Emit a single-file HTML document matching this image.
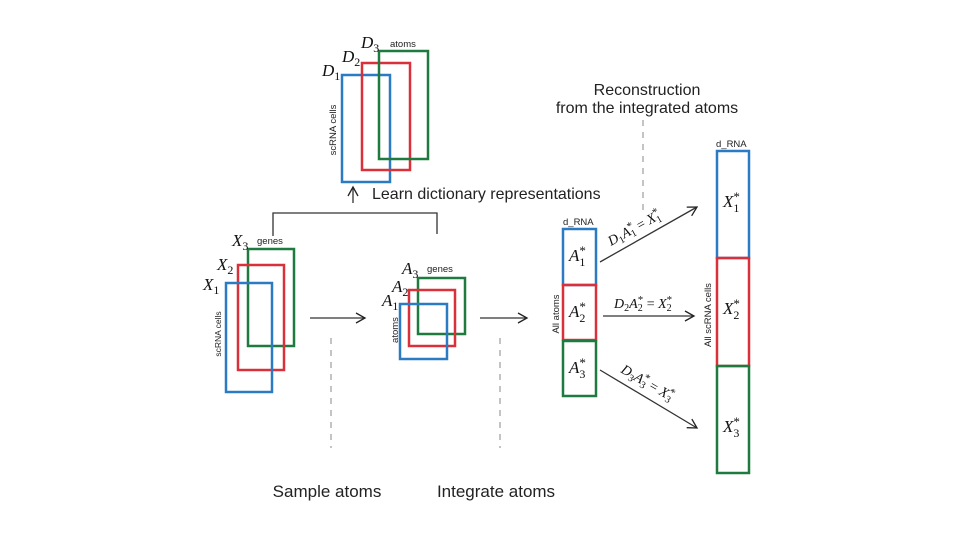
<!DOCTYPE html>
<html><head><meta charset="utf-8"><style>
body{margin:0;background:#fff}
svg{display:block}
.s{font-family:"Liberation Sans",sans-serif;fill:#222}
.m{font-family:"Liberation Serif",serif;font-style:italic;fill:#111}
.m tspan.n{font-style:normal}
</style></head><body>
<svg width="960" height="540" viewBox="0 0 960 540" xmlns="http://www.w3.org/2000/svg">
<defs><marker id="ar" markerWidth="12" markerHeight="12" refX="10" refY="6" orient="auto" markerUnits="userSpaceOnUse"><path d="M1,1 L10,6 L1,11" fill="none" stroke="#222" stroke-width="1.3"/></marker></defs>
<g fill="none" stroke-width="2.5">
<rect x="342" y="75" width="48" height="107" stroke="#2a7bc4"/>
<rect x="362" y="63" width="48" height="107" stroke="#d9303a"/>
<rect x="379" y="51" width="49" height="108" stroke="#1f7a3f"/>
<rect x="248" y="249" width="46" height="97" stroke="#1f7a3f"/>
<rect x="238" y="265" width="46" height="105" stroke="#d9303a"/>
<rect x="226" y="283" width="46" height="109" stroke="#2a7bc4"/>
<rect x="418" y="278" width="47" height="56" stroke="#1f7a3f"/>
<rect x="409" y="290" width="46" height="56" stroke="#d9303a"/>
<rect x="400" y="304" width="47" height="55" stroke="#2a7bc4"/>
<rect x="563" y="229" width="33" height="56" stroke="#2a7bc4"/>
<rect x="563" y="285" width="33" height="55" stroke="#d9303a"/>
<rect x="563" y="341" width="33" height="55" stroke="#1f7a3f"/>
<rect x="717" y="151" width="32" height="107" stroke="#2a7bc4"/>
<rect x="717" y="258" width="32" height="108" stroke="#d9303a"/>
<rect x="717" y="366" width="32" height="107" stroke="#1f7a3f"/>
</g>
<g stroke="#333" stroke-width="1.3" fill="none">
<path d="M273,236 V213 H437 V234"/>
<line x1="353" y1="203" x2="353" y2="187" marker-end="url(#ar)"/>
<line x1="310" y1="318" x2="365" y2="318" marker-end="url(#ar)"/>
<line x1="480" y1="318" x2="527" y2="318" marker-end="url(#ar)"/>
<line x1="600" y1="262" x2="697" y2="207" marker-end="url(#ar)"/>
<line x1="603" y1="316" x2="694" y2="316" marker-end="url(#ar)"/>
<line x1="600" y1="370" x2="697" y2="428" marker-end="url(#ar)"/>
</g>
<g stroke="#888" stroke-width="1" stroke-dasharray="6,6">
<line x1="331" y1="338" x2="331" y2="448"/>
<line x1="500" y1="338" x2="500" y2="448"/>
<line x1="643" y1="120" x2="643" y2="210"/>
</g>
<g class="m" font-size="17">
<text x="322" y="76">D<tspan class="n" font-size="12" dy="4">1</tspan></text>
<text x="342" y="62">D<tspan class="n" font-size="12" dy="4">2</tspan></text>
<text x="361" y="48">D<tspan class="n" font-size="12" dy="4">3</tspan></text>
<text x="203" y="290">X<tspan class="n" font-size="12" dy="4">1</tspan></text>
<text x="217" y="270">X<tspan class="n" font-size="12" dy="4">2</tspan></text>
<text x="232" y="246">X<tspan class="n" font-size="12" dy="4">3</tspan></text>
<text x="382" y="306">A<tspan class="n" font-size="12" dy="4">1</tspan></text>
<text x="392" y="292">A<tspan class="n" font-size="12" dy="4">2</tspan></text>
<text x="402" y="274">A<tspan class="n" font-size="12" dy="4">3</tspan></text>
<text x="569" y="261">A<tspan class="n" font-size="12" dy="5">1</tspan><tspan class="n" font-size="13" dy="-11" dx="-6">*</tspan></text>
<text x="569" y="317">A<tspan class="n" font-size="12" dy="5">2</tspan><tspan class="n" font-size="13" dy="-11" dx="-6">*</tspan></text>
<text x="569" y="373">A<tspan class="n" font-size="12" dy="5">3</tspan><tspan class="n" font-size="13" dy="-11" dx="-6">*</tspan></text>
<text x="723" y="207">X<tspan class="n" font-size="12" dy="5">1</tspan><tspan class="n" font-size="13" dy="-11" dx="-6">*</tspan></text>
<text x="723" y="314">X<tspan class="n" font-size="12" dy="5">2</tspan><tspan class="n" font-size="13" dy="-11" dx="-6">*</tspan></text>
<text x="723" y="432">X<tspan class="n" font-size="12" dy="5">3</tspan><tspan class="n" font-size="13" dy="-11" dx="-6">*</tspan></text>
</g>
<g class="m" font-size="14">
<text transform="translate(611,246) rotate(-29)">D<tspan class="n" font-size="10" dy="3">1</tspan><tspan dy="-3">A</tspan><tspan class="n" font-size="10" dy="3">1</tspan><tspan class="n" font-size="11" dy="-8" dx="-5">*</tspan><tspan class="n" dy="5"> = </tspan><tspan>X</tspan><tspan class="n" font-size="10" dy="3">1</tspan><tspan class="n" font-size="11" dy="-8" dx="-5">*</tspan></text>
<text x="614" y="308">D<tspan class="n" font-size="10" dy="3">2</tspan><tspan dy="-3">A</tspan><tspan class="n" font-size="10" dy="3">2</tspan><tspan class="n" font-size="11" dy="-8" dx="-5">*</tspan><tspan class="n" dy="5"> = </tspan><tspan>X</tspan><tspan class="n" font-size="10" dy="3">2</tspan><tspan class="n" font-size="11" dy="-8" dx="-5">*</tspan></text>
<text transform="translate(620,372) rotate(30)">D<tspan class="n" font-size="10" dy="3">3</tspan><tspan dy="-3">A</tspan><tspan class="n" font-size="10" dy="3">3</tspan><tspan class="n" font-size="11" dy="-8" dx="-5">*</tspan><tspan class="n" dy="5"> = </tspan><tspan>X</tspan><tspan class="n" font-size="10" dy="3">3</tspan><tspan class="n" font-size="11" dy="-8" dx="-5">*</tspan></text>
</g>
<g class="s" font-size="9.5">
<text x="390" y="47">atoms</text>
<text x="257" y="244">genes</text>
<text x="427" y="272">genes</text>
<text x="563" y="225">d_RNA</text>
<text x="716" y="147">d_RNA</text>
<text transform="translate(336,130) rotate(-90)" text-anchor="middle">scRNA cells</text>
<text transform="translate(221,334) rotate(-90)" text-anchor="middle" font-size="8.5">scRNA cells</text>
<text transform="translate(398,330) rotate(-90)" text-anchor="middle">atoms</text>
<text transform="translate(559,314) rotate(-90)" text-anchor="middle">All atoms</text>
<text transform="translate(711,315) rotate(-90)" text-anchor="middle">All scRNA cells</text>
</g>
<g class="s" font-size="16">
<text x="372" y="199">Learn dictionary representations</text>
<text x="327" y="497" text-anchor="middle" font-size="17">Sample atoms</text>
<text x="496" y="497" text-anchor="middle" font-size="17">Integrate atoms</text>
<text x="647" y="95" text-anchor="middle">Reconstruction</text>
<text x="647" y="113" text-anchor="middle">from the integrated atoms</text>
</g>
</svg>
</body></html>
